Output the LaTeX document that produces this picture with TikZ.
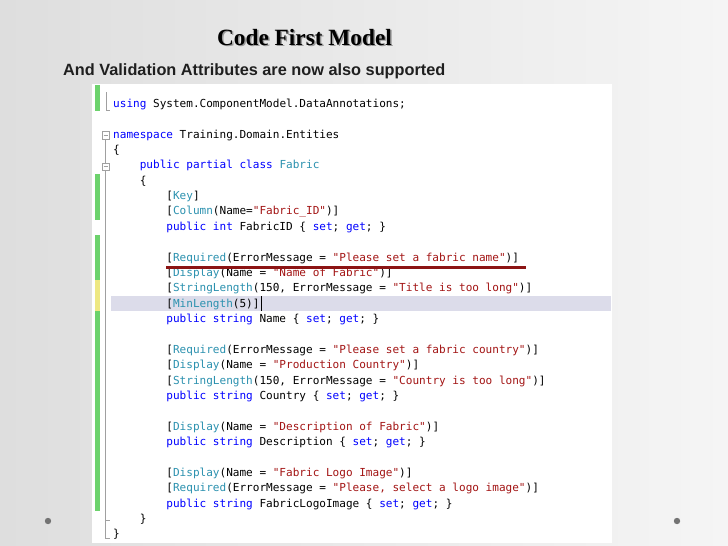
\documentclass[tikz,border=0pt]{standalone}
\usepackage{fontspec}
\usepackage{xcolor}
\usepackage{tikz}
\usetikzlibrary{positioning,calc}

\newfontfamily\codefont{DejaVu Sans Mono}
\newfontfamily\titlefont{Liberation Serif}
\newfontfamily\subfont{Liberation Sans}

\definecolor{kwblue}{RGB}{0,0,255}
\definecolor{tyteal}{RGB}{43,145,175}
\definecolor{strred}{RGB}{163,21,21}
\definecolor{bargreen}{RGB}{108,210,108}
\definecolor{baryellow}{RGB}{238,232,130}
\definecolor{guttergray}{RGB}{160,160,160}
\definecolor{hilite}{RGB}{220,220,234}
\definecolor{markred}{RGB}{140,20,20}
\definecolor{bgleft}{RGB}{222,222,222}
\definecolor{bgright}{RGB}{245,245,245}

\newcommand{\ckw}[1]{\textcolor{kwblue}{#1}}
\newcommand{\cty}[1]{\textcolor{tyteal}{#1}}
\newcommand{\cstr}[1]{\textcolor{strred}{#1}}

\tikzset{
    code/.style={anchor=base west, inner sep=0pt, font=\codefont\fontsize{11.05}{14}\selectfont},
    outline/.style={draw=guttergray, line width=0.8pt},
    foldbox/.style={draw=guttergray, fill=white, line width=0.7pt, minimum size=7.5pt, inner sep=0pt,
        path picture={\draw[guttergray, line width=0.7pt] ([xshift=-2pt]path picture bounding box.center) -- ([xshift=2pt]path picture bounding box.center);}}
}

\begin{document}
\begin{tikzpicture}[x=1pt,y=-1pt]
    \useasboundingbox (0,0) rectangle (728,546);
    % Background
    \shade[left color=bgleft, right color=bgright] (0,0) rectangle (728,546);

    % Titles
    \node[anchor=base, inner sep=0pt, text=black!40, font=\titlefont\bfseries\fontsize{23.3}{28}\selectfont] (title-shadow) at (306,46.5) {Code First Model};
    \node[anchor=base, inner sep=0pt, font=\titlefont\bfseries\fontsize{23.3}{28}\selectfont] (title) at (304.5,45) {Code First Model};
    \node[anchor=base west, inner sep=0pt, text=black!88, font=\subfont\bfseries\fontsize{16.3}{20}\selectfont] (subtitle) at (63,75) {And Validation Attributes are now also supported};

    % Code panel
    \fill[white] (92,84) rectangle (612,543);
    \fill[hilite] (111,295.5) rectangle (611,311);

    % Change bars
    \fill[bargreen] (94.5,85) rectangle (99.5,111);
    \fill[bargreen] (94.5,174) rectangle (99.5,219.5);
    \fill[bargreen] (94.5,235) rectangle (99.5,280);
    \fill[baryellow] (94.5,280) rectangle (99.5,311);
    \fill[bargreen] (94.5,311) rectangle (99.5,510.5);

    % Outlining
    \draw[outline] (106,92) -- (106,110.5) -- (109.5,110.5);
    \node[foldbox] (fold-ns) at (105.7,135.4) {};
    \node[foldbox] (fold-cls) at (105.7,166.6) {};
    \coordinate (cls-end) at (105.7,520);
    \coordinate (ns-end) at (105.7,538);
    \draw[outline] (fold-ns.south) -- (fold-cls.north);
    \draw[outline] (fold-cls.south) -- (ns-end) -- ++(4,0);
    \draw[outline] (cls-end) -- ++(4,0);

    % Code lines
    \node[code] (l-using) at (113,107.2) {\ckw{using} System.ComponentModel.DataAnnotations;};
    \node[code] (l0) at (113,138) {\ckw{namespace} Training.Domain.Entities};
    \node[code] (l1) at (113,153.4) {\{};
    \node[code] (l2) at (139.6,168.8) {\ckw{public} \ckw{partial} \ckw{class} \cty{Fabric}};
    \node[code] (l3) at (139.6,184.1) {\{};
    \node[code] (l4) at (166.2,199.5) {[\cty{Key}]};
    \node[code] (l5) at (166.2,214.9) {[\cty{Column}(Name=\cstr{"Fabric\_ID"})]};
    \node[code] (l6) at (166.2,230.3) {\ckw{public} \ckw{int} FabricID \{ \ckw{set}; \ckw{get}; \}};

    \node[code] (l8) at (166.2,261.0) {[\cty{Required}(ErrorMessage = \cstr{"Please set a fabric name"})]};
    \node[code] (l9) at (166.2,276.4) {[\cty{Display}(Name = \cstr{"Name of Fabric"})]};
    \node[code] (l10) at (166.2,291.8) {[\cty{StringLength}(150, ErrorMessage = \cstr{"Title is too long"})]};
    \node[code] (l11) at (166.2,307.2) {[\cty{MinLength}(5)]};
    \node[code] (l12) at (166.2,322.6) {\ckw{public} \ckw{string} Name \{ \ckw{set}; \ckw{get}; \}};

    \node[code] (l14) at (166.2,353.3) {[\cty{Required}(ErrorMessage = \cstr{"Please set a fabric country"})]};
    \node[code] (l15) at (166.2,368.7) {[\cty{Display}(Name = \cstr{"Production Country"})]};
    \node[code] (l16) at (166.2,384.1) {[\cty{StringLength}(150, ErrorMessage = \cstr{"Country is too long"})]};
    \node[code] (l17) at (166.2,399.5) {\ckw{public} \ckw{string} Country \{ \ckw{set}; \ckw{get}; \}};

    \node[code] (l19) at (166.2,430.2) {[\cty{Display}(Name = \cstr{"Description of Fabric"})]};
    \node[code] (l20) at (166.2,445.6) {\ckw{public} \ckw{string} Description \{ \ckw{set}; \ckw{get}; \}};

    \node[code] (l22) at (166.2,476.4) {[\cty{Display}(Name = \cstr{"Fabric Logo Image"})]};
    \node[code] (l23) at (166.2,491.7) {[\cty{Required}(ErrorMessage = \cstr{"Please, select a logo image"})]};
    \node[code] (l24) at (166.2,507.1) {\ckw{public} \ckw{string} FabricLogoImage \{ \ckw{set}; \ckw{get}; \}};
    \node[code] (l25) at (139.6,522.5) {\}};
    \node[code] (l26) at (113,537.9) {\}};

    % Underline and cursor
    \draw[markred, line width=2.2pt] ($(l8.base west)+(0,6.5)$) -- ($(l8.base east)+(7,6.5)$);
    \draw[black, line width=0.6pt] ($(l11.base east)+(1.5,3.5)$) -- ($(l11.base east)+(1.5,-11)$);

    % Bullets
    \fill[black!55] (48,521) circle (3.2);
    \fill[black!55] (677,521) circle (3.2);
\end{tikzpicture}
\end{document}
